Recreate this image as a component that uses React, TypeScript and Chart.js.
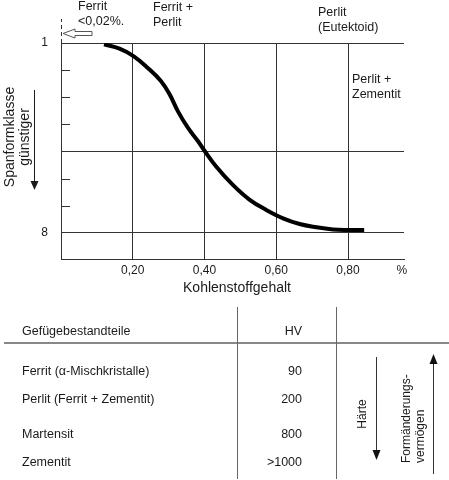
import React, { useEffect, useRef } from "react";
import { Chart, registerables } from "chart.js";

Chart.register(...registerables);

// ---- Data ----
const carbonContent = [0.12, 0.163, 0.203, 0.242, 0.279, 0.303, 0.326, 0.354, 0.382, 0.4, 0.433, 0.479, 0.526, 0.572, 0.619, 0.665, 0.712, 0.758, 0.8, 0.845];
const chipClass = [1.05, 1.21, 1.49, 1.92, 2.41, 2.9, 3.52, 4.13, 4.62, 4.97, 5.56, 6.23, 6.78, 7.15, 7.46, 7.67, 7.79, 7.87, 7.89, 7.89];

const xTickValues = [0.2, 0.4, 0.6, 0.8, 0.95];
const xTickLabels = ["0,20", "0,40", "0,60", "0,80", "%"];
const yTickValues = [1, 2, 3, 4, 5, 6, 7, 8];
const yGridValues = [1, 5, 8];
const yLabelValues = [1, 8];

const phaseLabels = [
  { x: 78, lines: ["Ferrit", "<0,02%."], y: 7 },
  { x: 153, lines: ["Ferrit +", "Perlit"], y: 8 },
  { x: 318, lines: ["Perlit", "(Eutektoid)"], y: 13 },
  { x: 352, lines: ["Perlit +", "Zementit"], y: 80 },
];

const tableHeader = ["Gefügebestandteile", "HV"];
const constituents = ["Ferrit (α-Mischkristalle)", "Perlit (Ferrit + Zementit)", "Martensit", "Zementit"];
const hardnessHV = ["90", "200", "800", ">1000"];

const FONT = '"Liberation Sans", Arial, Helvetica, sans-serif';
const TEXT = "#1a1a1a";

function arrowHead(ctx: CanvasRenderingContext2D, x: number, tipY: number, dir: number, w: number, h: number) {
  ctx.beginPath();
  ctx.moveTo(x, tipY);
  ctx.lineTo(x - w / 2, tipY - dir * h);
  ctx.lineTo(x + w / 2, tipY - dir * h);
  ctx.closePath();
  ctx.fill();
}

const decorPlugin = {
  id: "decor",
  afterDraw(chart: any) {
    const ctx: CanvasRenderingContext2D = chart.ctx;
    const ys = chart.scales.y;
    const area = chart.chartArea;
    ctx.save();
    ctx.fillStyle = TEXT;
    ctx.strokeStyle = TEXT;

    // inner minor ticks on y axis
    ctx.lineWidth = 1;
    ctx.strokeStyle = "#333";
    yTickValues.forEach((v) => {
      if (yGridValues.includes(v)) return;
      const py = Math.round(ys.getPixelForValue(v)) + 0.5;
      ctx.beginPath();
      ctx.moveTo(area.left, py);
      ctx.lineTo(area.left + 9, py);
      ctx.stroke();
    });

    // dashed extension of the y axis
    const ax = Math.round(area.left) + 0.5;
    ctx.setLineDash([4, 3]);
    ctx.beginPath();
    ctx.moveTo(ax, area.top);
    ctx.lineTo(ax, 19);
    ctx.stroke();
    ctx.setLineDash([]);

    // hollow arrow pointing left
    ctx.strokeStyle = "#555";
    ctx.fillStyle = "#fff";
    ctx.beginPath();
    ctx.moveTo(63, 33.5);
    ctx.lineTo(75, 29);
    ctx.lineTo(75, 31.5);
    ctx.lineTo(92, 31.5);
    ctx.lineTo(92, 35.5);
    ctx.lineTo(75, 35.5);
    ctx.lineTo(75, 38);
    ctx.closePath();
    ctx.fill();
    ctx.stroke();

    // phase labels
    ctx.fillStyle = TEXT;
    ctx.font = `12.5px ${FONT}`;
    ctx.textAlign = "left";
    ctx.textBaseline = "middle";
    phaseLabels.forEach((p) => {
      p.lines.forEach((l, i) => ctx.fillText(l, p.x, p.y + i * 15));
    });

    // x axis title
    ctx.font = `14px ${FONT}`;
    ctx.textAlign = "center";
    ctx.fillText("Kohlenstoffgehalt", 237, 288);

    // y axis title (rotated)
    const rot = (t: string, x: number, y: number, align: CanvasTextAlign) => {
      ctx.save();
      ctx.translate(x, y);
      ctx.rotate(-Math.PI / 2);
      ctx.textAlign = align;
      ctx.textBaseline = "middle";
      ctx.fillText(t, 0, 0);
      ctx.restore();
    };
    ctx.font = `14px ${FONT}`;
    rot("Spanformklasse", 10, 137, "center");
    rot("günstiger", 25, 137, "center");
    ctx.strokeStyle = TEXT;
    ctx.lineWidth = 1;
    ctx.beginPath();
    ctx.moveTo(34.5, 90);
    ctx.lineTo(34.5, 183);
    ctx.stroke();
    arrowHead(ctx, 34.5, 190, 1, 8, 9);

    // ---- table ----
    ctx.font = `12.5px ${FONT}`;
    ctx.textBaseline = "middle";
    ctx.textAlign = "left";
    ctx.fillText(tableHeader[0], 22, 332);
    ctx.textAlign = "right";
    ctx.fillText(tableHeader[1], 302, 332);

    ctx.strokeStyle = "#888";
    ctx.lineWidth = 2;
    ctx.beginPath();
    ctx.moveTo(4, 343);
    ctx.lineTo(449, 343);
    ctx.stroke();

    ctx.strokeStyle = "#666";
    ctx.lineWidth = 1;
    [237.5, 336.5].forEach((x) => {
      ctx.beginPath();
      ctx.moveTo(x, 307);
      ctx.lineTo(x, 479);
      ctx.stroke();
    });

    const rowY = [372, 400, 435, 463];
    constituents.forEach((c, i) => {
      ctx.textAlign = "left";
      ctx.fillText(c, 22, rowY[i]);
      ctx.textAlign = "right";
      ctx.fillText(hardnessHV[i], 302, rowY[i]);
    });

    ctx.font = `12px ${FONT}`;
    rot("Härte", 363, 414, "center");
    rot("Formänderungs-", 407, 463, "left");
    rot("vermögen", 421, 463, "left");

    ctx.strokeStyle = "#333";
    ctx.fillStyle = "#111";
    ctx.lineWidth = 1;
    ctx.beginPath();
    ctx.moveTo(376.5, 357);
    ctx.lineTo(376.5, 452);
    ctx.stroke();
    arrowHead(ctx, 376.5, 460, 1, 8, 10);
    ctx.beginPath();
    ctx.moveTo(433.5, 474);
    ctx.lineTo(433.5, 362);
    ctx.stroke();
    arrowHead(ctx, 433.5, 354, -1, 8, 10);

    ctx.restore();
  },
};

export default function App() {
  const ref = useRef<HTMLCanvasElement | null>(null);
  useEffect(() => {
    if (!ref.current) return;
    const chart = new Chart(ref.current, {
      type: "line",
      data: {
        datasets: [
          {
            data: carbonContent.map((c, i) => ({ x: c, y: chipClass[i] })),
            borderColor: "#000",
            borderWidth: 4,
            pointRadius: 0,
            tension: 0.4,
            fill: false,
          },
        ],
      },
      options: {
        animation: false,
        responsive: true,
        maintainAspectRatio: false,
        layout: { padding: { top: 43, right: 45, left: 0, bottom: 184 } },
        plugins: { legend: { display: false }, tooltip: { enabled: false } },
        scales: {
          x: {
            type: "linear",
            min: 0,
            max: 0.956,
            afterBuildTicks: (s: any) => {
              s.ticks = xTickValues.map((v) => ({ value: v }));
            },
            afterFit: (s: any) => {
              s.height = 37;
            },
            ticks: {
              padding: 4,
              maxRotation: 0,
              autoSkip: false,
              color: TEXT,
              font: { family: FONT, size: 12 },
              callback: (v: any) => {
                const i = xTickValues.indexOf(Number(v));
                return i >= 0 ? xTickLabels[i] : "";
              },
            },
            grid: {
              drawTicks: false,
              tickLength: 0,
              lineWidth: 1,
              color: (c: any) => (c.tick && c.tick.value < 0.9 ? "#333" : "rgba(0,0,0,0)"),
            },
            border: { display: true, color: "#333", width: 1 },
          },
          y: {
            type: "linear",
            reverse: true,
            min: 1,
            max: 8.96,
            afterBuildTicks: (s: any) => {
              s.ticks = yTickValues.map((v) => ({ value: v }));
            },
            afterFit: (s: any) => {
              s.width = 61;
            },
            ticks: {
              padding: 13,
              autoSkip: false,
              color: TEXT,
              font: { family: FONT, size: 12 },
              callback: (v: any) => (yLabelValues.includes(Number(v)) ? String(v) : ""),
            },
            grid: {
              drawTicks: false,
              tickLength: 0,
              lineWidth: 1,
              color: (c: any) => (c.tick && yGridValues.includes(c.tick.value) ? "#333" : "rgba(0,0,0,0)"),
            },
            border: { display: true, color: "#333", width: 1 },
          },
        },
      },
      plugins: [decorPlugin],
    } as any);
    return () => chart.destroy();
  }, []);
  return (
    <div style={{ position: "fixed", left: 0, top: 0, width: 449, height: 480, background: "#fff" }}>
      <canvas ref={ref} />
    </div>
  );
}
